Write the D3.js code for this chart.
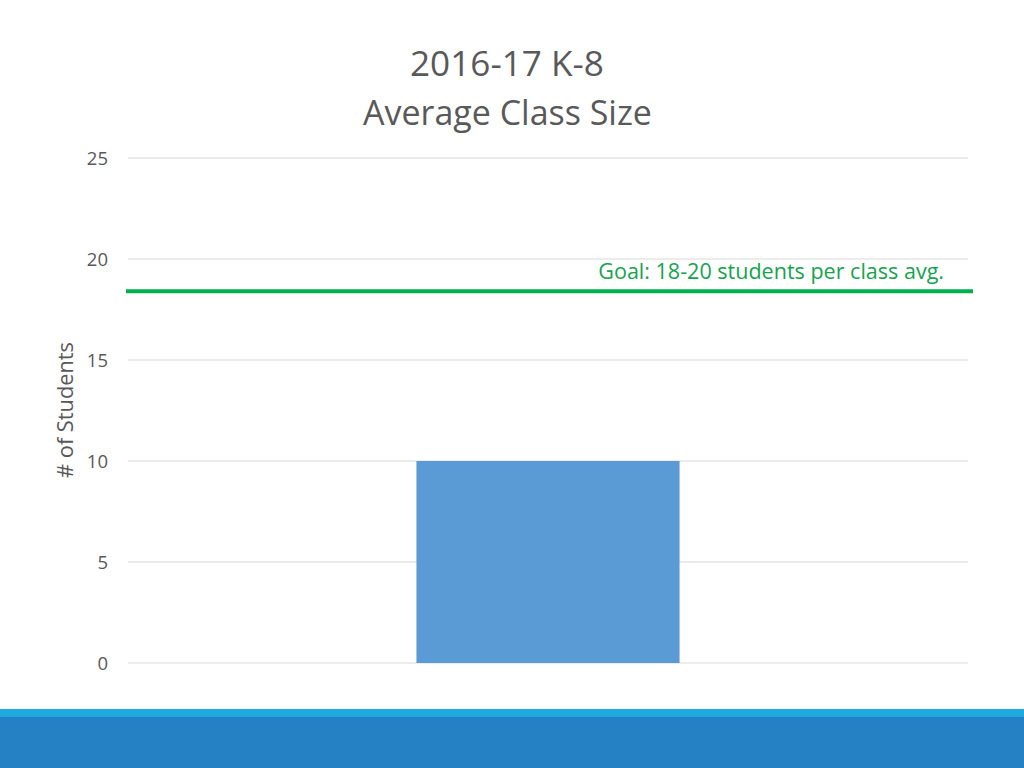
<!DOCTYPE html>
<html><head><meta charset="utf-8">
<script src="https://cdn.jsdelivr.net/npm/d3@7"></script>
<style>html,body{margin:0;padding:0;background:#fff;}svg{display:block;}</style>
</head><body>
<script>
const categories = ["2016-17 K-8"];
const values = [10];
const goalValue = [18.4];
const yTicks = [0, 5, 10, 15, 20, 25];
const titleLines = ["2016-17 K-8", "Average Class Size"];
const yLabel = "# of Students";
const goalLabel = "Goal: 18-20 students per class avg.";

const W = 1024, H = 768;
const svg = d3.select("body").append("svg").attr("width", W).attr("height", H);
const font = "'Open Sans', sans-serif";
const gray = "#595959";

const x = d3.scaleBand().domain(categories).range([128, 968]).paddingInner(0.523).paddingOuter(0.523);
const y = d3.scaleLinear().domain([0, 25]).range([663, 158]);

function fit(sel, target) {
  let fs = parseFloat(sel.attr("font-size"));
  const w = sel.node().getComputedTextLength();
  sel.attr("font-size", fs * target / w);
}

// gridlines
svg.append("g").selectAll("line").data(yTicks).join("line")
  .attr("x1", 128).attr("x2", 968)
  .attr("y1", d => y(d)).attr("y2", d => y(d))
  .attr("stroke", "#d9d9d9").attr("stroke-width", 1.2);

// y tick labels
const yAxis = d3.axisLeft(y).tickValues(yTicks).tickSize(0).tickPadding(0);
const ga = svg.append("g").attr("transform", "translate(108,0)").call(yAxis);
ga.select(".domain").remove();
ga.selectAll("text").attr("font-family", font).attr("font-size", 18.5).attr("fill", gray).attr("dy", "0.35em");

// bars
svg.append("g").selectAll("rect").data(values).join("rect")
  .attr("x", (d, i) => x(categories[i]))
  .attr("width", x.bandwidth())
  .attr("y", d => y(d))
  .attr("height", d => y(0) - y(d))
  .attr("fill", "#5b9bd5");

// goal line
svg.append("g").selectAll("line").data(goalValue).join("line")
  .attr("x1", 126).attr("x2", 973)
  .attr("y1", d => y(d)).attr("y2", d => y(d))
  .attr("stroke", "#00b050").attr("stroke-width", 4);

const gl = svg.append("text").text(goalLabel)
  .attr("x", 944).attr("y", 279).attr("text-anchor", "end")
  .attr("font-family", font).attr("font-size", 19).attr("fill", "#16a34f");
fit(gl, 346);

// title
const t1 = svg.append("text").text(titleLines[0]).attr("x", 507).attr("y", 76)
  .attr("text-anchor", "middle").attr("font-family", font).attr("font-size", 34).attr("fill", gray);
fit(t1, 194);
const t2 = svg.append("text").text(titleLines[1]).attr("x", 507.5).attr("y", 125)
  .attr("text-anchor", "middle").attr("font-family", font).attr("font-size", 34).attr("fill", gray);
fit(t2, 289);

// y label
const yl = svg.append("text").text(yLabel)
  .attr("transform", "translate(73,410) rotate(-90)")
  .attr("text-anchor", "middle").attr("font-family", font).attr("font-size", 20).attr("fill", gray);
fit(yl, 136);

// bottom bands
svg.append("rect").attr("x", 0).attr("y", 709).attr("width", W).attr("height", 8).attr("fill", "#1ea9df");
svg.append("rect").attr("x", 0).attr("y", 717).attr("width", W).attr("height", 51).attr("fill", "#2581c4");
</script>
</body></html>
